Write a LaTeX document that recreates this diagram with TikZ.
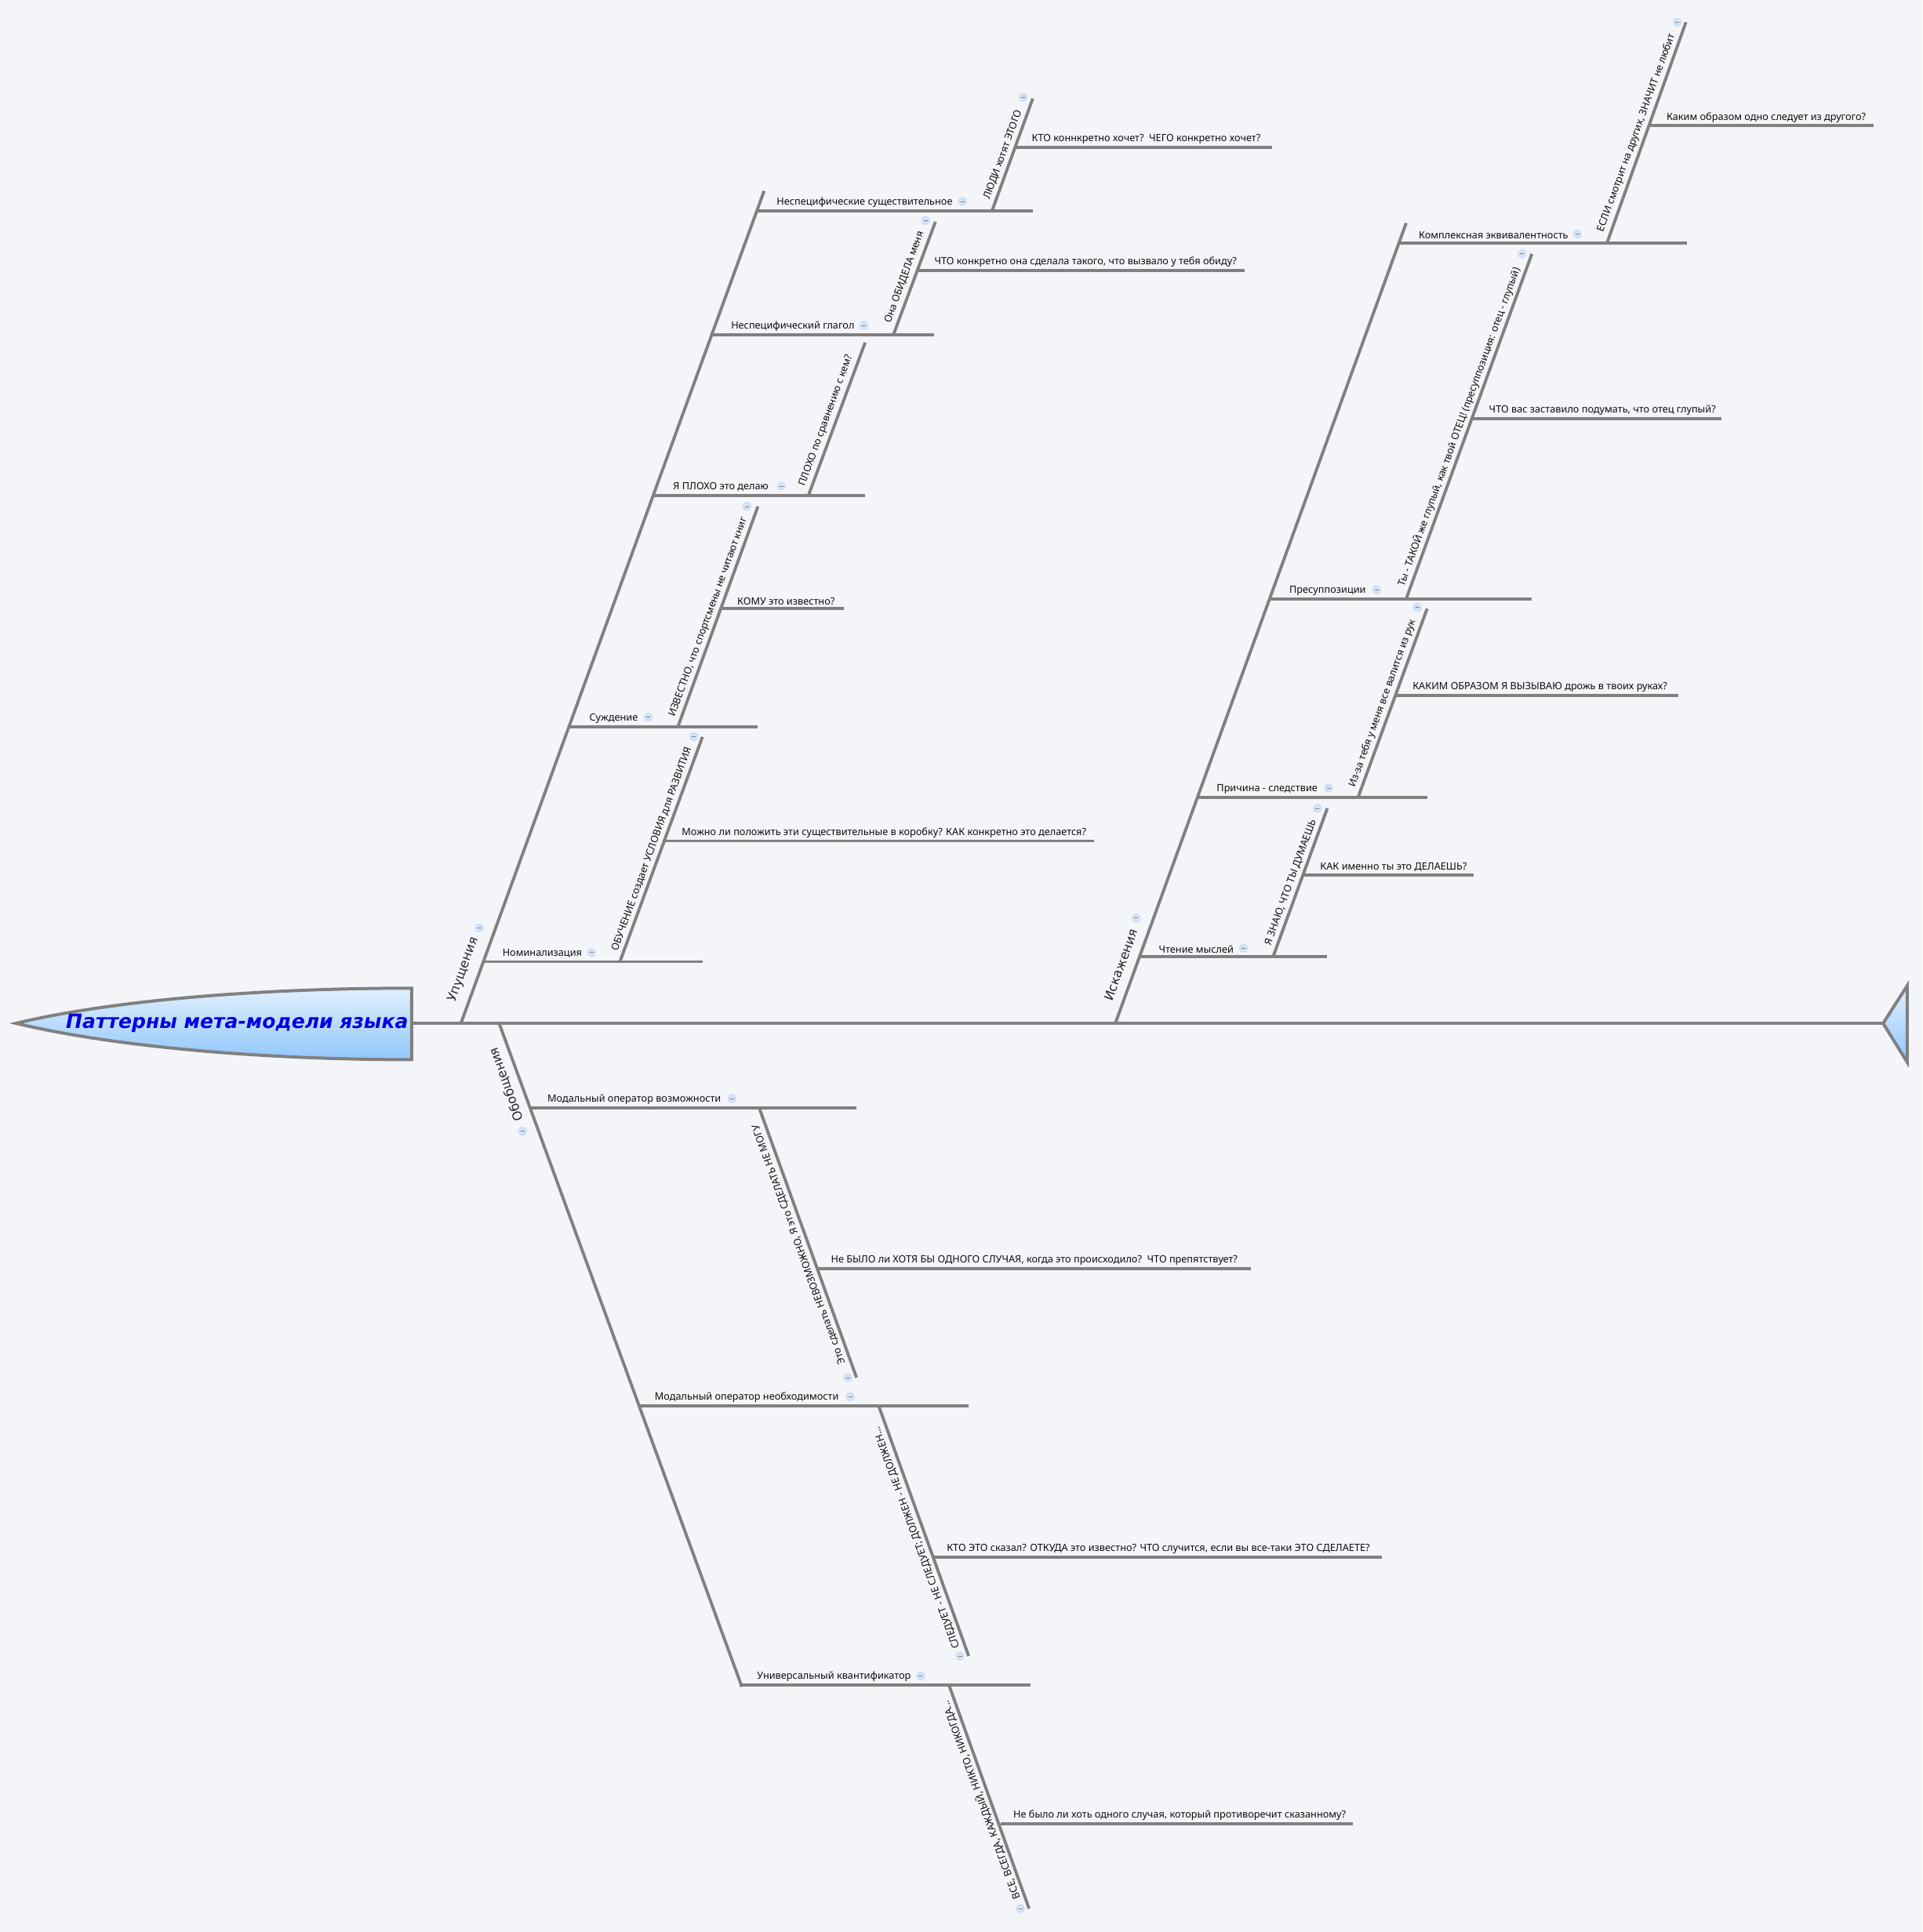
\documentclass[tikz,border=0pt]{standalone}
\usepackage{fontspec}
\setmainfont{Noto Sans}
\newfontfamily\titlefont{DejaVu Sans}
\definecolor{bg}{HTML}{F3F5F9}
\definecolor{bone}{HTML}{808080}
\definecolor{headtop}{HTML}{E0F0FF}
\definecolor{headbot}{HTML}{92C7FB}
\definecolor{iconfill}{HTML}{D6E4F8}
\definecolor{iconline}{HTML}{BDD2F0}
\tikzset{
  bonepath/.style={draw=bone,line width=1.85pt},
  head/.style={draw=bone,line width=1.9pt,top color=headtop,bottom color=headbot,line join=miter},
  txt/.style={anchor=west,inner sep=0pt,yshift=-.6pt,font=\fontsize{6.07}{7}\selectfont,text=black!95},
  rtxt/.style={anchor=center,inner sep=0pt,xshift=-.9pt,font=\fontsize{6.07}{7}\selectfont,text=black!95},
  ctxt/.style={anchor=center,inner sep=0pt,font=\titlefont\fontsize{7.7}{10}\selectfont,text=black!85},
  icon/.style={circle,draw=iconline,fill=iconfill,line width=.3pt,minimum size=5pt,inner sep=0pt,
    path picture={\draw[iconline!60!black,line width=.25pt] (-1.2pt,0) -- (1.2pt,0);}},
}
\begin{document}
\begin{tikzpicture}[x=.75pt,y=-.75pt]
\useasboundingbox[fill=bg] (0,0) rectangle (1560,1568);
% head and tail
\coordinate (tip) at (13,830.5);
\coordinate (hr) at (334,830.5);
\coordinate (ta) at (1528,830.5);
\path[head] (tip) .. controls (90,812) and (210,802) .. (334,802) -- (334,860) .. controls (210,860) and (90,849) .. (tip) -- cycle;
\path[head,top color=headtop,bottom color=headbot] (ta) -- (1547.5,800) -- (1547.5,862) -- cycle;
\node[anchor=east,inner sep=0pt,font=\titlefont\bfseries\itshape\fontsize{11.95}{15}\selectfont,text={rgb,255:red,0;green,0;blue,225}] (title) at (331.5,830.5) {Паттерны мета-модели языка};
\draw[bonepath] (hr) -- (ta);

% --- Упущения
\coordinate (U0) at (374,830.5); \coordinate (U1) at (620,155);
\draw[bonepath] (U0) -- (U1);
\node[ctxt,rotate=70] (Ul) at (376,787) {Упущения}; \node[icon] (Ui) at (389,753) {};

\coordinate (A1) at (392,780.5); \coordinate (A2) at (570,780.5); \draw[bonepath] (A1) -- (A2);
\node[txt] (At) at (407.5,773) {Номинализация}; \node[icon] (Ai) at (480,773) {};
\coordinate (A3) at (503,780.5); \coordinate (A4) at (570,598); \draw[bonepath] (A3) -- (A4);
\node[rtxt,rotate=70] (Al) at (530,689) {ОБУЧЕНИЕ создает УСЛОВИЯ для РАЗВИТИЯ}; \node[icon] (Ai2) at (563,598) {};
\coordinate (A5) at (538,682.5); \coordinate (A6) at (888,682.5); \draw[bonepath] (A5) -- (A6);
\node[txt] (Aq) at (553,675) {Можно ли положить эти существительные в коробку? КАК конкретно это делается?};

\coordinate (B1) at (462,590); \coordinate (B2) at (615,590); \draw[bonepath] (B1) -- (B2);
\node[txt] (Bt) at (478,582.5) {Суждение}; \node[icon] (Bi) at (526,582) {};
\coordinate (B3) at (550,590); \coordinate (B4) at (615,411); \draw[bonepath] (B3) -- (B4);
\node[rtxt,rotate=70] (Bl) at (576,501) {ИЗВЕСТНО, что спортсмены не читают книг}; \node[icon] (Bi2) at (606,411) {};
\coordinate (B5) at (585,494); \coordinate (B6) at (685,494); \draw[bonepath] (B5) -- (B6);
\node[txt] (Bq) at (598,487) {КОМУ это известно?};

\coordinate (C1) at (530,402); \coordinate (C2) at (702,402); \draw[bonepath] (C1) -- (C2);
\node[txt] (Ct) at (546,394.5) {Я ПЛОХО это делаю}; \node[icon] (Ci) at (634,394.5) {};
\coordinate (C3) at (656,402); \coordinate (C4) at (702,278); \draw[bonepath] (C3) -- (C4);
\node[rtxt,rotate=70] (Cl) at (671.5,341.5) {ПЛОХО по сравнению с кем?};

\coordinate (D1) at (578,271.5); \coordinate (D2) at (758,271.5); \draw[bonepath] (D1) -- (D2);
\node[txt] (Dt) at (593,264) {Неспецифический глагол}; \node[icon] (Di) at (701,264) {};
\coordinate (D3) at (725,271.5); \coordinate (D4) at (759,180); \draw[bonepath] (D3) -- (D4);
\node[rtxt,rotate=70] (Dl) at (735,225) {Она ОБИДЕЛА меня}; \node[icon] (Di2) at (751,179) {};
\coordinate (D5) at (744,219.5); \coordinate (D6) at (1010,219.5); \draw[bonepath] (D5) -- (D6);
\node[txt] (Dq) at (758,212) {ЧТО конкретно она сделала такого, что вызвало у тебя обиду?};

\coordinate (E1) at (614,171); \coordinate (E2) at (838,171); \draw[bonepath] (E1) -- (E2);
\node[txt] (Et) at (630,163.5) {Неспецифические существительное}; \node[icon] (Ei) at (781,163.5) {};
\coordinate (E3) at (805,171); \coordinate (E4) at (838,80); \draw[bonepath] (E3) -- (E4);
\node[rtxt,rotate=70] (El) at (815,125.5) {ЛЮДИ хотят ЭТОГО}; \node[icon] (Ei2) at (830,79) {};
\coordinate (E5) at (824,119.5); \coordinate (E6) at (1032,119.5); \draw[bonepath] (E5) -- (E6);
\node[txt] (Eq) at (837,112) {КТО коннкретно хочет?\ \ ЧЕГО конкретно хочет?};

% --- Искажения
\coordinate (I0) at (905,830.5); \coordinate (I1) at (1141,181);
\draw[bonepath] (I0) -- (I1);
\node[ctxt,rotate=70] (Il) at (909.5,783) {Искажения}; \node[icon] (Ii) at (922,745) {};

\coordinate (F1) at (925,776.5); \coordinate (F2) at (1077,776.5); \draw[bonepath] (F1) -- (F2);
\node[txt] (Ft) at (940,770) {Чтение мыслей}; \node[icon] (Fi) at (1009,769.5) {};
\coordinate (F3) at (1033,776.5); \coordinate (F4) at (1077,656); \draw[bonepath] (F3) -- (F4);
\node[rtxt,rotate=70] (Fl) at (1048.5,716) {Я ЗНАЮ, ЧТО ТЫ ДУМАЕШЬ}; \node[icon] (Fi2) at (1069,656) {};
\coordinate (F5) at (1057,710); \coordinate (F6) at (1196,710); \draw[bonepath] (F5) -- (F6);
\node[txt] (Fq) at (1071,703) {КАК именно ты это ДЕЛАЕШЬ?};

\coordinate (G1) at (972,647); \coordinate (G2) at (1158,647); \draw[bonepath] (G1) -- (G2);
\node[txt] (Gt) at (987,639.5) {Причина - следствие}; \node[icon] (Gi) at (1078,639.5) {};
\coordinate (G3) at (1102,647); \coordinate (G4) at (1158,494); \draw[bonepath] (G3) -- (G4);
\node[rtxt,rotate=70] (Gl) at (1123,571) {Из-за тебя у меня все валится из рук}; \node[icon] (Gi2) at (1150,493) {};
\coordinate (G5) at (1132,564.5); \coordinate (G6) at (1362,564.5); \draw[bonepath] (G5) -- (G6);
\node[txt] (Gq) at (1146,557) {КАКИМ ОБРАЗОМ Я ВЫЗЫВАЮ дрожь в твоих руках?};

\coordinate (H1) at (1030,486); \coordinate (H2) at (1243,486); \draw[bonepath] (H1) -- (H2);
\node[txt] (Ht) at (1046,478.5) {Пресуппозиции}; \node[icon] (Hi) at (1117,478.5) {};
\coordinate (H3) at (1141,486); \coordinate (H4) at (1243,206); \draw[bonepath] (H3) -- (H4);
\node[rtxt,rotate=70] (Hl) at (1185,346.5) {Ты - ТАКОЙ же глупый, как твой ОТЕЦ! (пресуппозиция: отец - глупый)}; \node[icon] (Hi2) at (1235,206) {};
\coordinate (H5) at (1195,340); \coordinate (H6) at (1397,340); \draw[bonepath] (H5) -- (H6);
\node[txt] (Hq) at (1208,332.5) {ЧТО вас заставило подумать, что отец глупый?};

\coordinate (J1) at (1136,197); \coordinate (J2) at (1369,197); \draw[bonepath] (J1) -- (J2);
\node[txt] (Jt) at (1151,190) {Комплексная эквивалентность}; \node[icon] (Ji) at (1280,190) {};
\coordinate (J3) at (1304,197); \coordinate (J4) at (1368,18); \draw[bonepath] (J3) -- (J4);
\node[rtxt,rotate=70] (Jl) at (1329,108) {ЕСЛИ смотрит на других, ЗНАЧИТ не любит}; \node[icon] (Ji2) at (1361,18) {};
\coordinate (J5) at (1339,102); \coordinate (J6) at (1520,102); \draw[bonepath] (J5) -- (J6);
\node[txt] (Jq) at (1352,94.5) {Каким образом одно следует из другого?};

% --- Обобщения
\coordinate (O0) at (405,830.5); \coordinate (O1) at (602,1369);
\draw[bonepath] (O0) -- (O1);
\node[ctxt,rotate=110] (Ol) at (411,880) {Обобщения}; \node[icon] (Oi) at (424,918) {};

\coordinate (K1) at (430,899); \coordinate (K2) at (695,899); \draw[bonepath] (K1) -- (K2);
\node[txt] (Kt) at (444,891.5) {Модальный оператор возможности}; \node[icon] (Ki) at (594,891.5) {};
\coordinate (K3) at (616,899); \coordinate (K4) at (695,1118); \draw[bonepath] (K3) -- (K4);
\node[rtxt,rotate=110] (Kl) at (649.5,1010) {Это сделать НЕВОЗМОЖНО, Я это СДЕЛАТЬ НЕ МОГУ}; \node[icon] (Ki2) at (688,1118) {};
\coordinate (K5) at (663,1029.5); \coordinate (K6) at (1015,1029.5); \draw[bonepath] (K5) -- (K6);
\node[txt] (Kq) at (674,1022) {Не БЫЛО ли ХОТЯ БЫ ОДНОГО СЛУЧАЯ, когда это происходило?\ \ ЧТО препятствует?};

\coordinate (L1) at (518,1141); \coordinate (L2) at (786,1141); \draw[bonepath] (L1) -- (L2);
\node[txt] (Lt) at (531,1133.5) {Модальный оператор необходимости}; \node[icon] (Li) at (690,1133.5) {};
\coordinate (L3) at (713,1141); \coordinate (L4) at (786,1344); \draw[bonepath] (L3) -- (L4);
\node[rtxt,rotate=110] (Ll) at (745,1248) {СЛЕДУЕТ - НЕ СЛЕДУЕТ; ДОЛЖЕН - НЕ ДОЛЖЕН...}; \node[icon] (Li2) at (779,1344) {};
\coordinate (L5) at (757,1264); \coordinate (L6) at (1121,1264); \draw[bonepath] (L5) -- (L6);
\node[txt] (Lq) at (768,1256.5) {КТО ЭТО сказал? ОТКУДА это известно? ЧТО случится, если вы все-таки ЭТО СДЕЛАЕТЕ?};

\coordinate (M1) at (600,1367.5); \coordinate (M2) at (836,1367.5); \draw[bonepath] (M1) -- (M2);
\node[txt] (Mt) at (614,1360) {Универсальный квантификатор}; \node[icon] (Mi) at (747,1360) {};
\coordinate (M3) at (770,1367.5); \coordinate (M4) at (835,1549); \draw[bonepath] (M3) -- (M4);
\node[rtxt,rotate=110] (Ml) at (797,1461) {ВСЕ, ВСЕГДА, КАЖДЫЙ, НИКТО, НИКОГДА...}; \node[icon] (Mi2) at (828,1549) {};
\coordinate (M5) at (812,1480); \coordinate (M6) at (1098,1480); \draw[bonepath] (M5) -- (M6);
\node[txt] (Mq) at (822,1472.5) {Не было ли хоть одного случая, который противоречит сказанному?};
\end{tikzpicture}
\end{document}
